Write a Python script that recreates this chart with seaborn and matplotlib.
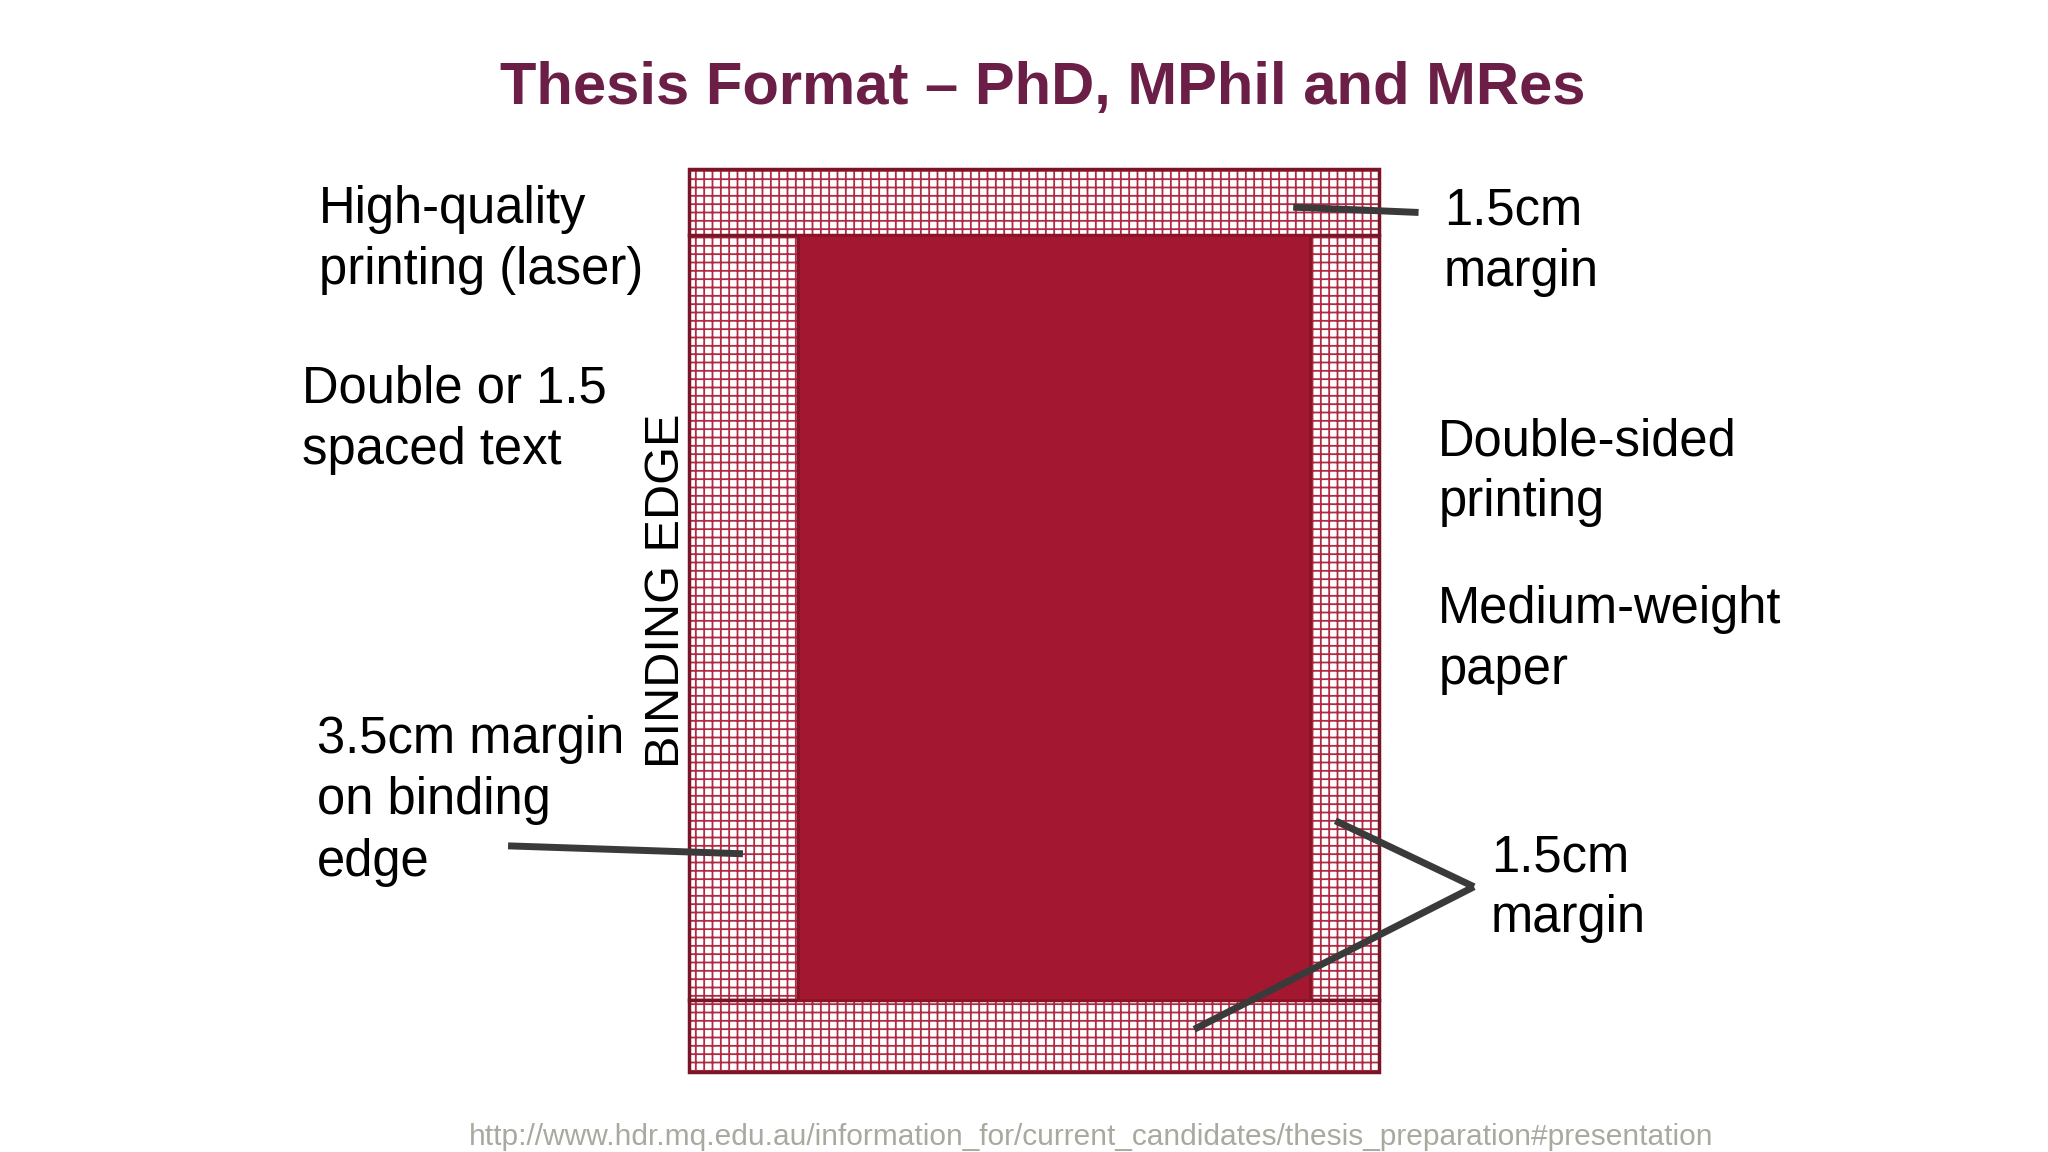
import matplotlib
matplotlib.use("Agg")
import matplotlib.pyplot as plt
import seaborn as sns
from matplotlib.patches import Rectangle

sns.set_theme(style="white")
plt.rcParams['font.family'] = ['Liberation Sans', 'DejaVu Sans']
plt.rcParams['hatch.linewidth'] = 1.3

title = "Thesis Format – PhD, MPhil and MRes"
left_notes = ["High-quality\nprinting (laser)", "Double or 1.5\nspaced text", "3.5cm margin\non binding\nedge"]
right_notes = ["1.5cm\nmargin", "Double-sided\nprinting", "Medium-weight\npaper", "1.5cm\nmargin"]
url = "http://www.hdr.mq.edu.au/information_for/current_candidates/thesis_preparation#presentation"

W, H = 1552, 873
fig = plt.figure(figsize=(20.48, 11.52), dpi=100)
ax = fig.add_axes([0, 0, 1, 1])
ax.set_xlim(0, W); ax.set_ylim(H, 0); ax.axis('off')

dark = '#7A1528'; red = '#A31830'; hatchc = '#B02A45'
plt.rcParams['hatch.color'] = hatchc
def band(x0, y0, x1, y1):
    ax.add_patch(Rectangle((x0, y0), x1-x0, y1-y0, facecolor='white', edgecolor=hatchc, hatch='++', lw=0))
    ax.add_patch(Rectangle((x0, y0), x1-x0, y1-y0, facecolor='none', edgecolor=dark, lw=2.5))
band(522, 178, 605, 758)
band(993, 178, 1045, 758)
band(522, 128, 1045, 178)
band(522, 758, 1045, 812)
ax.add_patch(Rectangle((605, 178), 388, 580, facecolor=red, edgecolor='#8A1426', lw=2))

ax.text(790, 67, title, ha='center', va='center', fontsize=43, fontweight='bold', color='#6B1F47')
fs = 36.5
ls = 1.32
ax.text(242, 182, left_notes[0], ha='left', va='center', fontsize=fs, color='black', linespacing=ls)
ax.text(229, 318, left_notes[1], ha='left', va='center', fontsize=fs, color='black', linespacing=ls)
ax.text(240, 607, left_notes[2], ha='left', va='center', fontsize=fs, color='black', linespacing=ls)
ax.text(1094, 183, right_notes[0], ha='left', va='center', fontsize=fs, color='black', linespacing=ls)
ax.text(1090, 358, right_notes[1], ha='left', va='center', fontsize=fs, color='black', linespacing=ls)
ax.text(1090, 485, right_notes[2], ha='left', va='center', fontsize=fs, color='black', linespacing=ls)
ax.text(1130, 673, right_notes[3], ha='left', va='center', fontsize=fs, color='black', linespacing=ls)
ax.text(505, 448, "BINDING EDGE", rotation=90, ha='center', va='center', fontsize=35, color='black')
ax.text(827, 862, url, ha='center', va='center', fontsize=21.5, color='#A9A9A0')

lc = '#3A3A3A'
ax.plot([980, 1075], [157, 161], color=lc, lw=5, solid_capstyle='butt')
ax.plot([385, 563], [641, 647], color=lc, lw=5, solid_capstyle='butt')
ax.plot([1012, 1117], [622, 672], color=lc, lw=5, solid_capstyle='butt')
ax.plot([1117, 905], [672, 780], color=lc, lw=5, solid_capstyle='butt')

fig.savefig("out.png", dpi=100, facecolor='white')
